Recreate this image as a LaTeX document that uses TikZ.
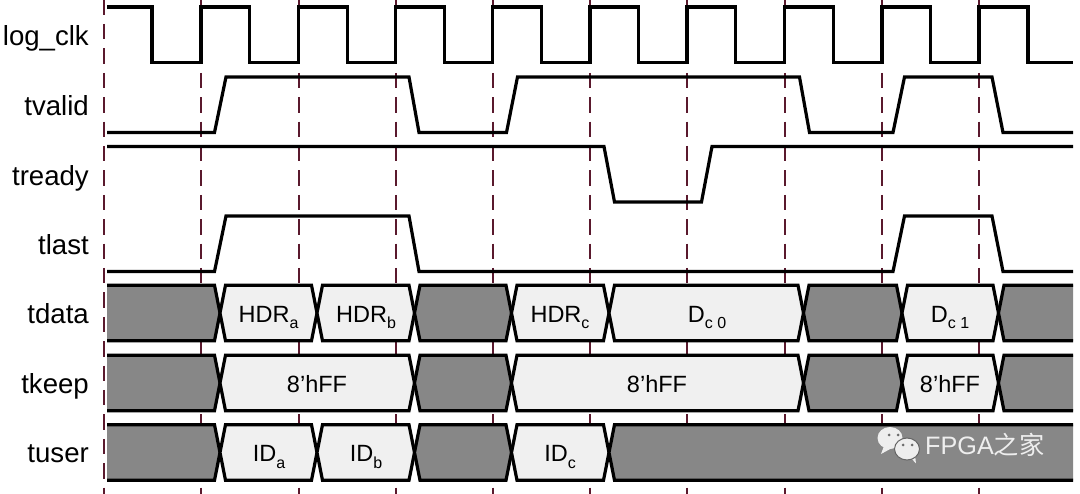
\documentclass[tikz,border=0pt]{standalone}
\usepackage{fontspec}
\setmainfont{Liberation Sans}
\newfontfamily\cjkfont{Noto Sans CJK SC}
\definecolor{edgemaroon}{RGB}{90,25,45}
\definecolor{busgray}{RGB}{135,135,135}
\definecolor{buslight}{RGB}{240,240,240}
\definecolor{markwhite}{RGB}{238,238,238}
\tikzset{
  wave/.style={line width=3.2pt,line join=miter,black},
  edgeline/.style={edgemaroon,line width=2pt,dash pattern=on 15.5pt off 8.9pt,dash phase=0.4pt},
  siglabel/.style={anchor=base east,inner sep=0pt,font=\fontsize{27.6}{30}\selectfont},
  buslabel/.style={anchor=base,inner sep=0pt,font=\fontsize{23.5}{28}\selectfont},
  busgap/.style={wave,fill=busgray},
  busdata/.style={wave,fill=buslight},
  bubble/.style={fill=markwhite},
  bubbleeye/.style={fill=busgray!80!black,circle,inner sep=0pt,minimum size=3pt}
}
% one bus row: centre line, then from/to/style of every stretch
\newcommand{\busrow}[2]{
  \foreach \xa/\xb/\kind in {#2}{
    \draw[\kind] (\xa,#1) -- (\xa+5.5,#1-27.8) -- (\xb-5.5,#1-27.8) -- (\xb,#1)
      -- (\xb-5.5,#1+27.8) -- (\xa+5.5,#1+27.8) -- cycle;
  }
}
\newcommand{\sbs}[1]{\raisebox{-6pt}{\fontsize{16}{16}\selectfont #1}}
\begin{document}
\begin{tikzpicture}[x=1pt,y=-1pt]
    \useasboundingbox (0,0) rectangle (1080,494);
    % clock edges
    \foreach \x in {103.5,201,298.5,395.5,492.5,590,687,784.5,882,979}
        \draw[edgeline] (\x,0) -- (\x,494);

    % log_clk
    \draw[wave] (107,7) -- (152,7) -- (152,62.5)
        \foreach \x in {201,298.5,395.5,492.5,590,687,784.5,882}
            { -- (\x,62.5) -- (\x,7) -- (\x+48.7,7) -- (\x+48.7,62.5) }
        -- (979,62.5) -- (979,7) -- (1028,7) -- (1028,62.5) -- (1073,62.5);
    % tvalid
    \draw[wave] (107,132.5) -- (214.5,132.5) -- (226,77) -- (409,77) -- (419,132.5)
        -- (506.5,132.5) -- (517.5,77) -- (799.5,77) -- (809.5,132.5)
        -- (893,132.5) -- (904.5,77) -- (992,77) -- (1003,132.5) -- (1073,132.5);
    % tready
    \draw[wave] (107,146.5) -- (604,146.5) -- (614.5,202) -- (701.5,202)
        -- (712,146.5) -- (1073,146.5);
    % tlast
    \draw[wave] (107,271.5) -- (214.5,271.5) -- (226,216) -- (409,216) -- (419,271.5)
        -- (893,271.5) -- (904.5,216) -- (992,216) -- (1003,271.5) -- (1073,271.5);

    % buses
    \begin{scope}
        \clip (107,0) rectangle (1073,494);
        \busrow{313}{90/220/busgap,220/317/busdata,317/414.5/busdata,414.5/511.5/busgap,511.5/609/busdata,609/803.5/busdata,803.5/902/busgap,902/998.5/busdata,998.5/1095/busgap}
        \busrow{383}{90/220/busgap,220/414.5/busdata,414.5/511.5/busgap,511.5/803.5/busdata,803.5/902/busgap,902/998.5/busdata,998.5/1095/busgap}
        \busrow{452.5}{90/220/busgap,220/317/busdata,317/414.5/busdata,414.5/511.5/busgap,511.5/609/busdata,609/1095/busgap}
    \end{scope}

    % signal names
    \node[siglabel] (logclk) at (89,46) {log\_clk};
    \node[siglabel] (tvalid) at (89,115.5) {tvalid};
    \node[siglabel] (tready) at (89,185.5) {tready};
    \node[siglabel] (tlast) at (89,255) {tlast};
    \node[siglabel] (tdata) at (89,324) {tdata};
    \node[siglabel] (tkeep) at (89,394) {tkeep};
    \node[siglabel] (tuser) at (89,463) {tuser};

    % bus values
    \node[buslabel] (hdra) at (268.5,323) {HDR\sbs{a}};
    \node[buslabel] (hdrb) at (366,323) {HDR\sbs{b}};
    \node[buslabel] (hdrc) at (560,323) {HDR\sbs{c}};
    \node[buslabel] (dczero) at (707,323) {D\sbs{c 0}};
    \node[buslabel] (dcone) at (950,323) {D\sbs{c 1}};
    \node[buslabel] (keepab) at (317,393) {8’hFF};
    \node[buslabel] (keepc) at (657,393) {8’hFF};
    \node[buslabel] (keepd) at (950,393) {8’hFF};
    \node[buslabel] (ida) at (269,462) {ID\sbs{a}};
    \node[buslabel] (idb) at (366,462) {ID\sbs{b}};
    \node[buslabel] (idc) at (560,462) {ID\sbs{c}};

    % watermark
    \fill[bubble] (884,446) -- (881,454) -- (892,448) -- cycle;
    \fill[bubble] (890,438) ellipse (12.5 and 11);
    \fill[bubble] (911,458) -- (916,463.5) -- (915,455) -- cycle;
    \draw[bubble,draw=busgray!75!black,line width=1pt] (907,449) ellipse (12.5 and 11);
    \node[bubbleeye] (eyea) at (889,435) {};
    \node[bubbleeye] (eyeb) at (898,435) {};
    \node[bubbleeye] (eyec) at (903,445) {};
    \node[bubbleeye] (eyed) at (912,445) {};
    \node[anchor=base west,inner sep=0pt,text=markwhite,font=\fontsize{25.2}{30}\selectfont] (fpga) at (925,455)
        {FPGA{\cjkfont 之家}};
\end{tikzpicture}
\end{document}
